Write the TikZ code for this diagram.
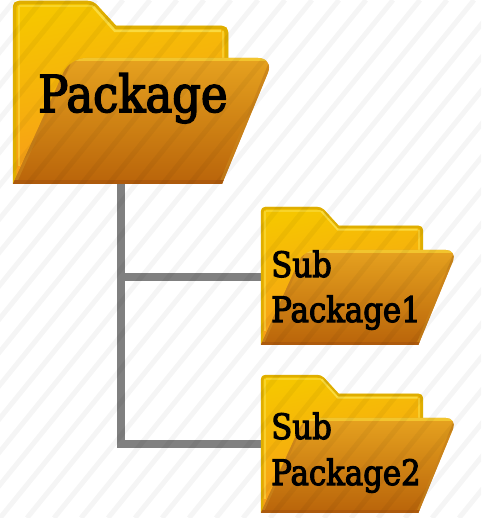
\documentclass[tikz,border=0pt]{standalone}
\usepackage{fontspec}
\setmainfont[FakeStretch=0.88,FakeBold=3]{DejaVu Serif}
\tikzset{
  connector/.style={draw=linkgray,line width=8pt},
  folderbox/.style={inner sep=0pt,minimum width=#1,anchor=north west},
  biglabel/.style={anchor=base west,inner sep=0pt,font=\fontsize{51}{51}\selectfont,text=black},
  smalllabel/.style={anchor=base west,inner sep=0pt,font=\fontsize{35}{35}\selectfont,text=black},
  stripe/.style={line width=5pt,black,opacity=.04}
}
\definecolor{linkgray}{HTML}{808080}
\definecolor{backtop}{HTML}{F6C600}
\definecolor{backbot}{HTML}{F7931E}
\definecolor{backedge}{HTML}{DFAE00}
\definecolor{backlight}{HTML}{FBE04A}
\definecolor{fronttop}{HTML}{E6A21F}
\definecolor{frontbot}{HTML}{B9640A}
\definecolor{frontlight}{HTML}{F2C52E}
\definecolor{frontdark}{HTML}{AD5A0C}
\definecolor{frontside}{HTML}{C9821A}
% #1 x, #2 y, #3 scale
\newcommand{\folderart}[3]{%
  \begin{scope}[shift={(#1,#2)},scale=#3]
    % back
    \path[shade,top color=backtop,bottom color=backbot,middle color=backtop!55!backbot,shading angle=12]
      (0,100) [rounded corners=5pt*#3] -- (0,0) -- (80,0) [sharp corners] -- (103,25) [rounded corners=5pt*#3] -- (215,25) -- (215,60) [sharp corners] -- (215,100) -- (100,100) -- (0,183) -- cycle;
    \draw[backedge,line width=3.5pt*#3,line join=round]
      (1.5,183) [rounded corners=5pt*#3] -- (1.5,1.5) -- (79.5,1.5) [sharp corners] -- (102.5,26.5) [rounded corners=5pt*#3] -- (213.5,26.5) -- (213.5,50) [sharp corners] -- (213.5,70);
    \draw[backlight,line width=2.5pt*#3,opacity=.85]
      (80,5.5) -- (102,30) -- (208,30);
    \draw[backlight,line width=2pt*#3,opacity=.55]
      (6,5.5) -- (80,5.5) (5.5,5) -- (5.5,165) (209.5,30) -- (209.5,70);
    % front
    \path[shade,top color=fronttop,bottom color=frontbot]
      (0,183) [rounded corners=16pt*#3] -- (57,57) -- (261,57) -- (235,120) [sharp corners] -- (209,183) -- cycle;
    \begin{scope}
      \clip (0,183) [rounded corners=16pt*#3] -- (57,57) -- (261,57) -- (235,120) [sharp corners] -- (209,183) -- cycle;
      \draw[frontside,line width=6pt*#3,opacity=.8]
        (0,183) -- (57,57) (261,57) -- (209,183);
      \draw[frontlight,line width=7pt*#3]
        (40,57) -- (270,57);
      \draw[frontdark,line width=8pt*#3]
        (-5,183) -- (220,183);
    \end{scope}
  \end{scope}
}
\begin{document}
\begin{tikzpicture}[x=1pt,y=-1pt]
  \useasboundingbox (0,0) rectangle (481,518);
  \fill[white] (0,0) rectangle (481,518);
  % folder anchors
  \node[folderbox=255pt,minimum height=183pt] (pkg) at (13,1) {};
  \node[folderbox=192pt,minimum height=138pt] (sub1) at (261,207) {};
  \node[folderbox=192pt,minimum height=138pt] (sub2) at (261,375) {};
  \coordinate (trunk) at (121,180);
  % connectors
  \draw[connector] (trunk) |- (sub2.west |- 0,444);
  \draw[connector] (121,277) -- (sub1.west |- 0,277);
  % folders
  \folderart{13}{1}{1}
  \folderart{261}{207}{0.753}
  \folderart{261}{375}{0.753}
  % stripes
  \begin{scope}
    \clip (0,0) rectangle (481,518);
    \foreach \k in {-20,...,40} {
      \draw[stripe] ({\k*27},518) -- ({\k*27+420},0);
    }
  \end{scope}
  % labels
  \node[biglabel] (lpkg) at (38,112) {Package};
  \node[smalllabel] (ls1) at (271,277) {Sub};
  \node[smalllabel] (lp1) at (271,322) {Package1};
  \node[smalllabel] (ls2) at (271,439) {Sub};
  \node[smalllabel] (lp2) at (271,485) {Package2};
\end{tikzpicture}
\end{document}
